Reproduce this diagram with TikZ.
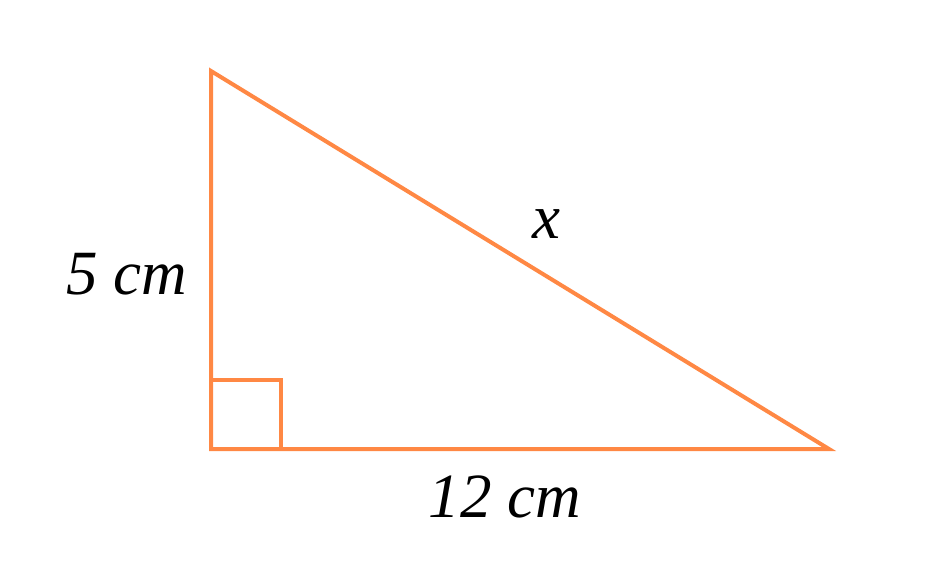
\documentclass[tikz,border=0pt]{standalone}
\usepackage{fontspec}
\setmainfont{Liberation Serif}
\definecolor{tri}{HTML}{FF8844}
\begin{document}
\begin{tikzpicture}[x=1pt,y=-1pt,
  edge/.style={draw=tri,line width=4pt,line join=miter},
  lbl/.style={font=\fontsize{63}{65}\selectfont\itshape,inner sep=0pt}]
\useasboundingbox (0,0) rectangle (949,582);
\coordinate (A) at (211,71);
\coordinate (B) at (211,449);
\coordinate (C) at (829,449);
\coordinate (S1) at (211,380);
\coordinate (S2) at (281,380);
\coordinate (S3) at (281,449);
\draw[edge] (A) -- (B) -- (C) -- cycle;
\draw[edge] (S1) -- (S2) -- (S3);
\node[lbl,anchor=base] (l5) at (127,294) {5 cm};
\node[lbl,anchor=base] (l12) at (505,517) {12 cm};
\node[lbl,anchor=base] (lx) at (546,238) {x};
\end{tikzpicture}
\end{document}
